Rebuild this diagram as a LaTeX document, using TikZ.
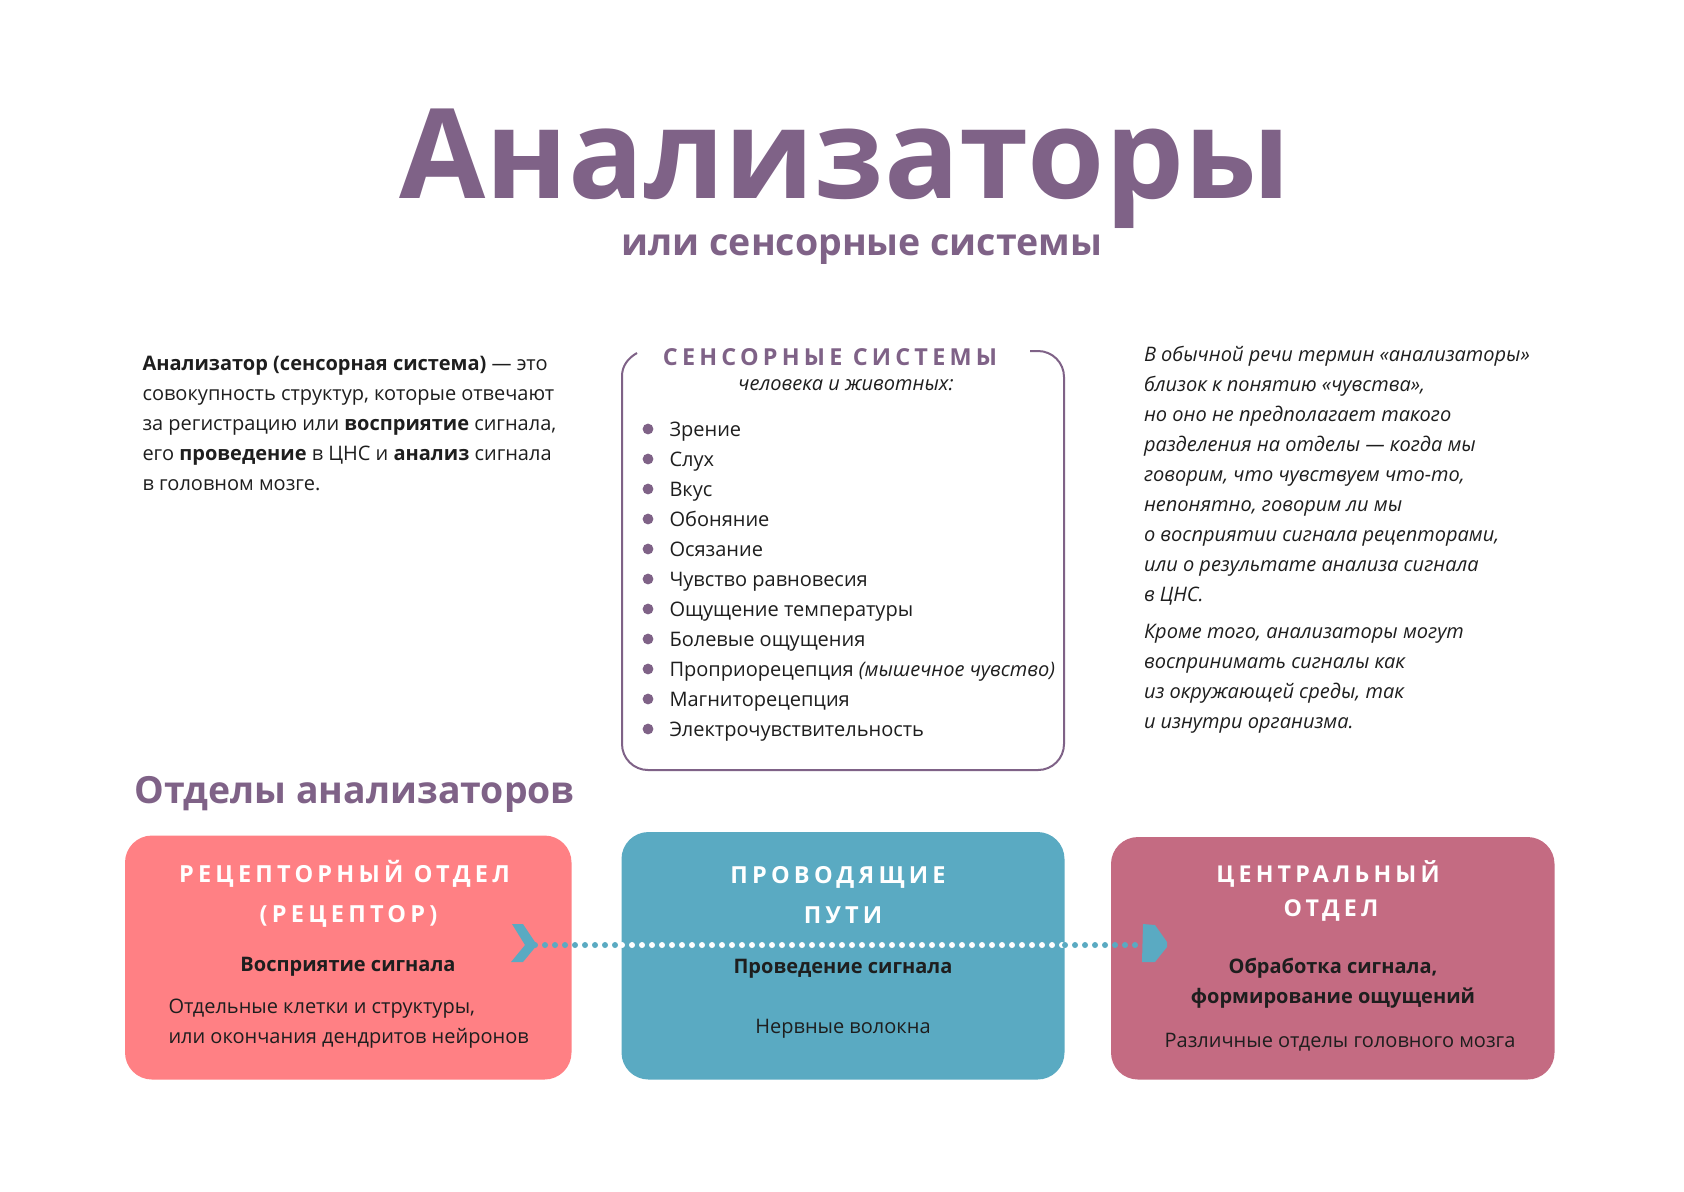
\documentclass[tikz,border=0pt]{standalone}
\usepackage{fontspec}
\setmainfont{Open Sans}
\newfontfamily\titlefont{Open Sans}
\definecolor{purp}{HTML}{7F6287}
\definecolor{ink}{HTML}{1E1E1E}
\definecolor{coral}{HTML}{FF8084}
\definecolor{teal}{HTML}{5AAAC2}
\definecolor{rose}{HTML}{C46B82}
\tikzset{
  x=0.5pt,y=-0.5pt,
  card/.style={fill=#1,rounded corners=13.5pt,draw=none},
  para/.style={anchor=north west,align=left,inner sep=0pt,outer sep=0pt,text=ink,font=\fontsize{10}{15}\selectfont},
  centred/.style={anchor=center,align=center,inner sep=0pt,outer sep=0pt,text=ink,font=\fontsize{10}{15}\selectfont},
  cardhead/.style={anchor=center,align=center,inner sep=0pt,outer sep=0pt,text=white,font=\fontsize{11.75}{20}\selectfont\bfseries\addfontfeature{LetterSpace=18}},
  bul/.style={circle,fill=purp,minimum size=5.4pt,inner sep=0pt,draw=none},
  item/.style={anchor=base west,inner sep=0pt,outer sep=0pt,text=ink,font=\fontsize{10}{15}\selectfont},
  dotline/.style={line width=3pt,line cap=round,dash pattern=on 0pt off 5pt},
  arrowshape/.style={fill=teal,draw=none},
}
\begin{document}
\begin{tikzpicture}
\useasboundingbox (0,0) rectangle (1684,1191);
\fill[white] (0,0) rectangle (1684,1191);
\node[inner sep=0pt,anchor=base,text=purp,font=\fontsize{62.5}{64}\selectfont\titlefont\bfseries] (title) at (845,198) {Анализаторы};
\node[inner sep=0pt,anchor=base,text=purp,font=\fontsize{18.75}{19}\selectfont\titlefont\bfseries] (subtitle) at (862,255) {или сенсорные системы};
\node[para] (intro) at (142.5,356) {\textbf{Анализатор (сенсорная система)} — это\\совокупность структур, которые отвечают\\за регистрацию или \textbf{восприятие} сигнала,\\его \textbf{проведение} в ЦНС и \textbf{анализ} сигнала\\в головном мозге.};
\draw[purp,line width=1pt] (637,353) .. controls (628,358) and (622,366) .. (622,376) -- (622,744) arc[start angle=180,end angle=90,radius=26] -- (1038,770) arc[start angle=90,end angle=0,radius=26] -- (1064,377) arc[start angle=0,end angle=-90,radius=26] -- (1030,351);
\node[inner sep=0pt,anchor=center,text=purp,font=\fontsize{11.7}{14}\selectfont\bfseries\addfontfeature{LetterSpace=18}] (boxhead) at (830,357) {СЕНСОРНЫЕ СИСТЕМЫ};
\node[inner sep=0pt,anchor=center,text=ink,font=\fontsize{10}{15}\selectfont\itshape] (boxsub) at (846,385) {человека и животных:};
\foreach \n/\t [count=\i from 0] in {a/Зрение,b/Слух,c/Вкус,d/Обоняние,e/Осязание,f/Чувство равновесия,g/Ощущение температуры,h/Болевые ощущения,i/Проприорецепция {\itshape(мышечное чувство)},j/Магниторецепция,k/Электрочувствительность}{
  \node[bul] (b\n) at (648,{429+30*\i}) {};
  \node[item] (t\n) at (669.5,{436+30*\i}) {\t};
}
\node[para] (right1) at (1144,346) {\itshape В обычной речи термин «анализаторы»\\\itshape близок к понятию «чувства»,\\\itshape но оно не предполагает такого\\\itshape разделения на отделы — когда мы\\\itshape говорим, что чувствуем что-то,\\\itshape непонятно, говорим ли мы\\\itshape о восприятии сигнала рецепторами,\\\itshape или о результате анализа сигнала\\\itshape в ЦНС.};
\node[para] (right2) at (1144,624) {\itshape Кроме того, анализаторы могут\\\itshape воспринимать сигналы как\\\itshape из окружающей среды, так\\\itshape и изнутри организма.};
\node[inner sep=0pt,anchor=base west,text=purp,font=\fontsize{18.7}{18}\selectfont\titlefont\bfseries] (sect) at (134,803) {Отделы анализаторов};
\fill[card=coral] (125,835.5) rectangle (571.5,1079.5);
\fill[card=teal] (621.5,832) rectangle (1064.5,1079.5);
\fill[card=rose] (1111,837) rectangle (1554.5,1079.5);
\node[cardhead] (h1) at (344.5,894) {РЕЦЕПТОРНЫЙ ОТДЕЛ\\\hspace*{4pt}(РЕЦЕПТОР)};
\node[centred,font=\fontsize{10}{15}\selectfont\bfseries] (s1) at (348,967) {Восприятие сигнала};
\node[para] (d1) at (168.5,999) {Отдельные клетки и структуры,\\или окончания дендритов нейронов};
\node[cardhead] (h2) at (842,895) {ПРОВОДЯЩИЕ\hspace*{4pt}\\\hspace*{1pt}ПУТИ};
\node[centred,font=\fontsize{10}{15}\selectfont\bfseries] (s2) at (843,969) {Проведение сигнала};
\node[centred] (d2) at (843,1029) {Нервные волокна};
\node[cardhead,font=\fontsize{11.6}{17}\selectfont\bfseries\addfontfeature{LetterSpace=18}] (h3) at (1331,891) {ЦЕНТРАЛЬНЫЙ\hspace*{3pt}\\ОТДЕЛ};
\node[centred,font=\fontsize{10}{15}\selectfont\bfseries] (s3) at (1333,983) {Обработка сигнала,\\формирование ощущений};
\node[centred] (d3) at (1340,1042) {Различные отделы головного мозга};
\fill[arrowshape] (512,924) -- (523,924) -- (537,945) -- (523,962) -- (511,962) -- (525,945) -- cycle;
\fill[arrowshape] (1143,924) -- (1155,925) -- (1167,942) -- (1167,947) -- (1155,962) -- (1142,962) -- cycle;
\coordinate (p1) at (535,945);
\coordinate (p2) at (618,945);
\coordinate (p3) at (622,945);
\coordinate (p4) at (1064,945);
\coordinate (p5) at (1065,945);
\coordinate (p6) at (1137,945);
\draw[dotline,teal] (p1) -- (p2);
\draw[dotline,white] (p3) -- (p4);
\draw[dotline,teal] (p5) -- (p6);
\end{tikzpicture}
\end{document}
